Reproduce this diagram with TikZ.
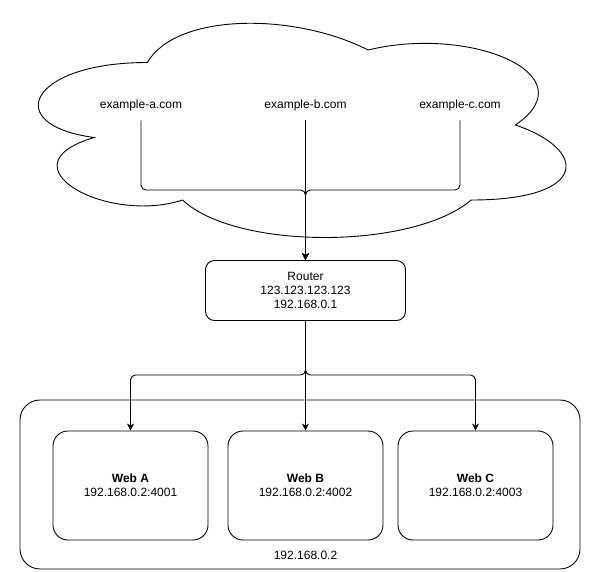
\documentclass[tikz,border=0pt]{standalone}
\usepackage{fontspec}
\setmainfont{Liberation Sans}
\usetikzlibrary{arrows.meta,positioning}

\tikzset{
	box/.style={draw, rounded corners=#1, align=center, inner sep=0pt},
	site/.style={inner sep=0pt, minimum height=30pt},
	edge/.style={->, rounded corners=5pt},
}

\begin{document}
\begin{tikzpicture}[x=1pt, y=-1pt, line width=0.9pt, >={Stealth[length=7pt,width=7pt,inset=2pt]}, font=\fontsize{12}{14}\selectfont]
	\useasboundingbox (0,0) rectangle (589,571);

	% internet cloud
	\draw (147.25,62.5) .. controls (29.45,62.5) and (0,125) .. (94.24,137.5)
		.. controls (0,165) and (106,225) .. (182.6,200)
		.. controls (235.6,250) and (412.3,250) .. (471.2,200)
		.. controls (589,200) and (589,150) .. (515.4,125)
		.. controls (589,75) and (471.2,25) .. (368.1,50)
		.. controls (294.5,12.5) and (176.7,12.5) .. (147.25,62.5) -- cycle;

	\node[site] (siteA) at (141,105) {example-a.com};
	\node[site] (siteB) at (305.5,105) {example-b.com};
	\node[site] (siteC) at (460,105) {example-c.com};

	\node[box=9pt, minimum width=200pt, minimum height=60pt] (router) at (305.5,290.5) {Router\\123.123.123.123\\192.168.0.1};

	% host machine
	\node[box=20pt, minimum width=560pt, minimum height=169pt] (host) at (300,484.5) {};
	\node (hostip) at (305.5,555) {192.168.0.2};
	\node[box=15pt, minimum width=155pt, minimum height=109pt] (webA) at (130.5,485.5) {\textbf{Web A}\\192.168.0.2:4001};
	\node[box=15pt, minimum width=155pt, minimum height=109pt] (webB) at (305.5,485.5) {\textbf{Web B}\\192.168.0.2:4002};
	\node[box=15pt, minimum width=155pt, minimum height=109pt] (webC) at (475.5,485.5) {\textbf{Web C}\\192.168.0.2:4003};

	\coordinate (merge) at (305.5,190);
	\coordinate (split) at (305.5,375);

	\draw[edge] (siteA.south) |- (merge) -- (router.north);
	\draw[edge] (siteC.south) |- (merge) -- (router.north);
	\draw[edge] (siteB.south) -- (router.north);

	\draw[edge] (router.south) -- (split) -| (webA.north);
	\draw[edge] (router.south) -- (webB.north);
	\draw[edge] (router.south) -- (split) -| (webC.north);
\end{tikzpicture}
\end{document}
